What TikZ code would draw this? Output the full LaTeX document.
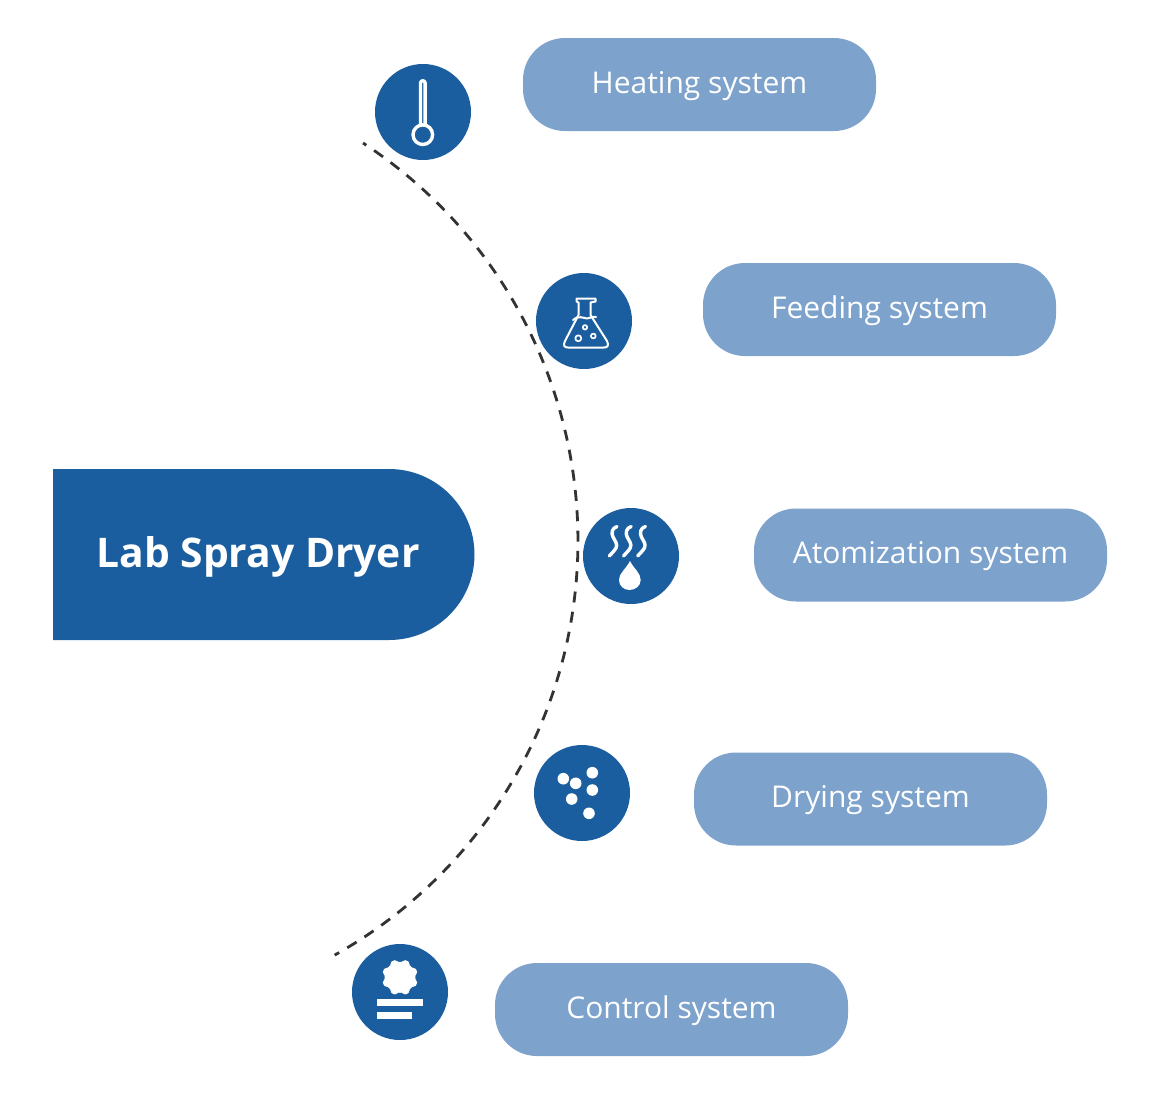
\documentclass[tikz,border=0pt]{standalone}
\usepackage{fontspec}
\setmainfont{Open Sans}
\definecolor{deep}{HTML}{1B5E9F}
\definecolor{soft}{HTML}{7DA2CC}
\definecolor{arcink}{HTML}{333333}
\tikzset{
  x=1pt,y=-1pt,
  pill/.style={fill=soft,rounded corners=42pt,minimum width=353pt,minimum height=93pt,inner sep=0pt},
  pilltext/.style={text=white,font=\fontsize{30}{34}\selectfont,inner sep=0pt},
  disc/.style={circle,fill=deep,minimum size=96pt,inner sep=0pt},
  glyph/.style={draw=white,line width=2pt,line join=round,line cap=round},
  thick glyph/.style={draw=white,line width=3.4pt,line cap=round,line join=round},
  dot/.style={fill=white}
}
\begin{document}
\begin{tikzpicture}
\useasboundingbox (0,0) rectangle (1176,1112);
\fill[white] (0,0) rectangle (1176,1112);
% central shape
\fill[deep] (53,469) -- (389,469) arc[start angle=90,end angle=-90,radius=85.5pt] -- (53,640) -- cycle;
\node[text=white,font=\fontsize{40.8}{46}\selectfont\bfseries,inner sep=0pt] (title) at (258,557) {Lab Spray Dryer};
% dashed arc
\coordinate (arcstart) at (363,143);
\draw[arcink,line width=2.8pt,dash pattern=on 11pt off 9.35pt,dash phase=7pt] (arcstart) arc[start angle=56.8,end angle=-60.8,radius=475pt];
% pills
\node[pill] (heat) at (699.5,84.5) {};
\node[pill] (feed) at (879.5,309.5) {};
\node[pill] (atom) at (930.5,555) {};
\node[pill] (dry) at (870.5,799) {};
\node[pill] (ctrl) at (671.5,1009.5) {};
\node[pilltext] (heatlabel) at ([yshift=-1.5pt]heat.center) {Heating system};
\node[pilltext] (feedlabel) at ([yshift=-1.5pt]feed.center) {Feeding system};
\node[pilltext] (atomlabel) at ([yshift=-1.5pt]atom.center) {Atomization system};
\node[pilltext] (drylabel) at ([yshift=-1.5pt]dry.center) {Drying system};
\node[pilltext] (ctrllabel) at ([yshift=-1.5pt]ctrl.center) {Control system};
% discs
\node[disc] (d1) at (423,112) {};
\node[disc] (d2) at (584,321) {};
\node[disc] (d3) at (631,556) {};
\node[disc] (d4) at (582,793) {};
\node[disc] (d5) at (400,992) {};
% thermometer
\draw[thick glyph] (420.5,125) -- (420.5,83) arc[start angle=180,end angle=0,radius=2.3pt] -- (425.2,125);
\draw[thick glyph] (422.8,134.7) circle[radius=9.8pt];
% flask
\draw[glyph] (576.5,301.5) -- (576.5,298.5) -- (595.5,298.5) -- (595.5,301.5) -- (590.5,302.5) -- (590.5,315) -- (607,341) .. controls (609.5,346) and (607,347.5) .. (604,347.5) -- (568,347.5) .. controls (565,347.5) and (562.5,346) .. (565,341) -- (578.5,315) -- (578.5,302.5) -- cycle;
\draw[glyph] (573,320) .. controls (579,315) and (583,318) .. (587,318.5) .. controls (590,318.5) and (593,316) .. (596,317);
\draw[glyph,line width=1.7pt] (585,327.3) circle[radius=2.2pt];
\draw[glyph,line width=1.7pt] (578.3,338.3) circle[radius=3pt];
\draw[glyph,line width=1.7pt] (593.3,336) circle[radius=2.4pt];
% steam and droplet
\foreach \dx in {0,14.2,28.4}{
  \draw[thick glyph,xshift=\dx pt] (617,526.5) .. controls (612,528) and (611,533) .. (613,537) .. controls (615,541) and (618,544) .. (616,548) .. controls (615,550) and (612,553) .. (609.3,556);
}
\fill[white] (630,561) .. controls (626,569) and (619,573) .. (619,580) .. controls (619,586) and (624,590) .. (629.5,590) .. controls (635,590) and (640.7,586) .. (640.7,580) .. controls (640.7,573) and (634,569) .. (630,561) -- cycle;
% particles
\foreach \px/\py in {563.3/778.7,575.7/783.3,592.3/772.7,592.3/790,571.7/799,589/813.3}{
  \fill[dot] (\px,\py) circle[radius=5.8pt];
}
% control icon
\fill[white] (400,977.3) circle[radius=15.5pt];
\foreach \a in {0,45,...,315}{
  \fill[white] ({400+13.8*cos(\a+22.5)},{977.3+13.8*sin(\a+22.5)}) circle[radius=4.4pt];
}
\fill[white] (376.7,999.3) rectangle (422.7,1006.3);
\fill[white] (377,1011.7) rectangle (412,1018.7);
\end{tikzpicture}
\end{document}
